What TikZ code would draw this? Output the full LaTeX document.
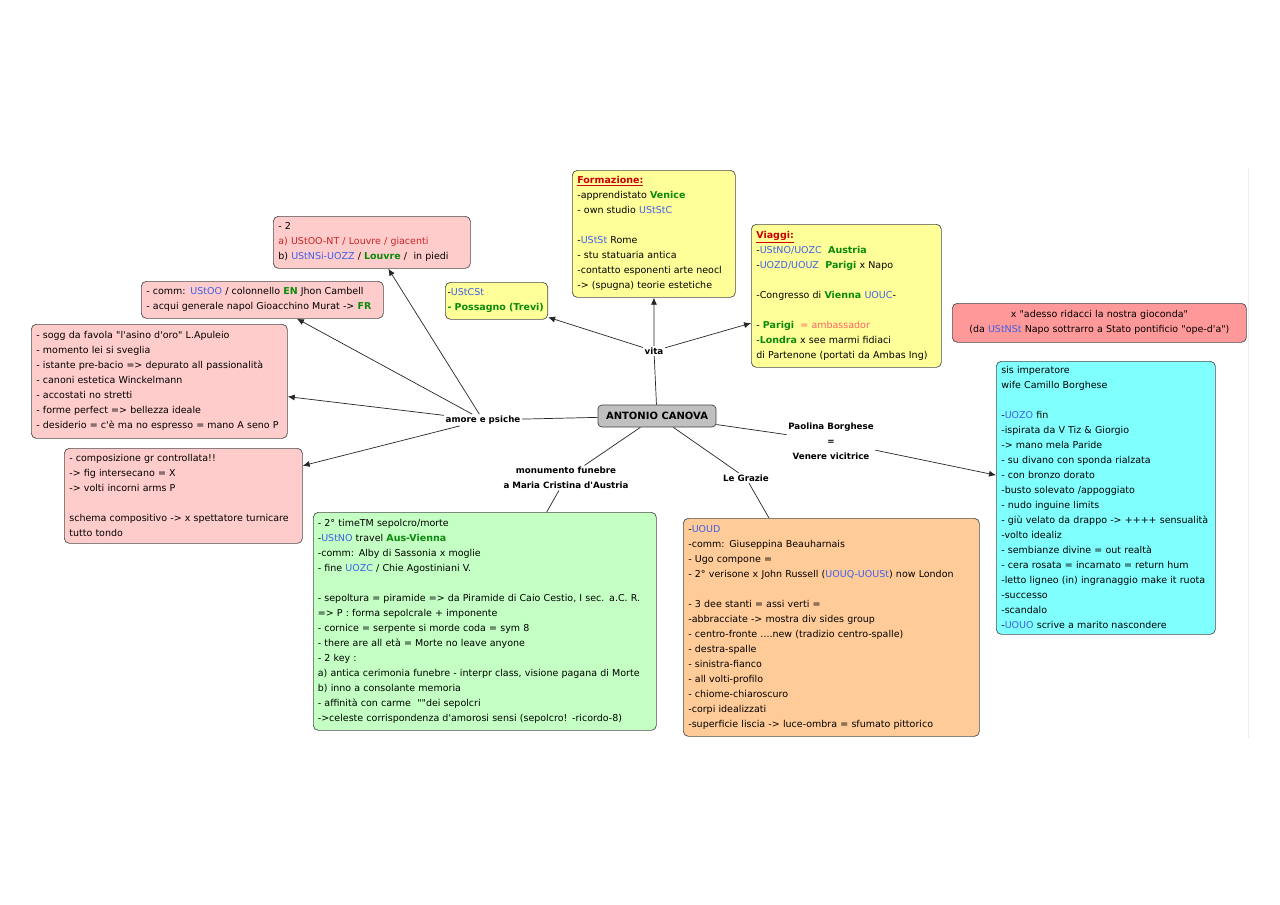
\documentclass[tikz,border=0pt]{standalone}
\usepackage{fontspec}
\setmainfont{DejaVu Sans}[Ligatures=TeXOff]
\usetikzlibrary{arrows.meta}
\definecolor{yel}{HTML}{FFFF99}
\definecolor{pnk}{HTML}{FFCCCC}
\definecolor{sal}{HTML}{FF9999}
\definecolor{cya}{HTML}{80FFFF}
\definecolor{grn}{HTML}{C4FFC4}
\definecolor{org}{HTML}{FFCC99}
\definecolor{gry}{HTML}{C0C0C0}
\definecolor{tblue}{HTML}{3F5FE8}
\definecolor{tgreen}{HTML}{0A8A0A}
\definecolor{thdr}{HTML}{CC0000}
\definecolor{tred}{HTML}{CC2222}
\definecolor{tsal}{HTML}{FF6060}
\newcommand{\Bl}[1]{\textcolor{tblue}{#1}}
\newcommand{\Gr}[1]{\textcolor{tgreen}{\bfseries #1}}
\newcommand{\Hd}[1]{\textcolor{thdr}{\bfseries\underline{#1}}}
\newcommand{\fs}{\fontsize{9.5}{15}\selectfont}
\newcommand{\fl}{\fontsize{8.7}{15}\selectfont}
\tikzset{
  box/.style={draw=black!70, line width=0.7pt, rounded corners=5pt, anchor=north west,
    align=left, inner xsep=5pt, inner ysep=3pt, font=\fs},
  lbl/.style={font=\fl\bfseries, align=center, inner sep=1.5pt},
  arr/.style={-{Latex[length=7pt,width=6pt]}, line width=0.7pt, black!85},
  ln/.style={line width=0.7pt, black!85}
}
\begin{document}
\begin{tikzpicture}[x=1pt,y=-1pt]
\useasboundingbox (0,0) rectangle (1280,905);
\fill[white] (0,0) rectangle (1280,905);
\draw[black!7, line width=0.6pt] (1248,168) -- (1248,738);

% centre
\node[draw=black!75, line width=0.7pt, fill=gry, rounded corners=4pt,
  font=\fontsize{10}{12}\selectfont\bfseries,
  minimum width=118pt, minimum height=22pt, inner sep=2pt] (canova) at (657,416) {ANTONIO CANOVA};

% labels
\node[lbl] (vita) at (654,351) {vita};
\node[lbl] (amore) at (483,420) {amore e psiche};
\node[lbl] (monu) at (566,478) {monumento funebre\\a Maria Cristina d'Austria};
\node[lbl] (grazie) at (746,478) {Le Grazie};
\node[lbl] (paolina) at (831,441) {Paolina Borghese\\=\\Venere vicitrice};

% boxes
\node[box, fill=yel, text width=153pt, minimum height=127pt] (form) at (572,170) {%
\Hd{Formazione:}\\
-apprendistato \Gr{Venice}\\
- own studio \Bl{UStStC}\\
\strut\\
-\Bl{UStSt} Rome\\
- stu statuaria antica\\
-contatto esponenti arte neocl\\
-> (spugna) teorie estetiche};

\node[box, fill=yel, text width=180pt, minimum height=143pt] (viaggi) at (751,224) {%
\Hd{Viaggi:}\\
-\Bl{UStNO/UOZC}\ \ \Gr{Austria}\\
-\Bl{UOZD/UOUZ}\ \ \Gr{Parigi} x Napo\\
\strut\\
-Congresso di \Gr{Vienna} \Bl{UOUC}-\\
\strut\\
- \Gr{Parigi}\ \ \textcolor{tsal}{= ambassador}\\
-\Gr{Londra} x see marmi fidiaci\\
di Partenone (portati da Ambas Ing)};

\node[box, fill=yel, text width=98pt, inner xsep=2.2pt, minimum height=37pt] (possagno) at (445,282) {%
-\Bl{UStCSt}\\
\Gr{- Possagno (Trevi)}};

\node[box, fill=pnk, text width=187pt, minimum height=52pt] (louvre) at (273,216) {%
- 2\\
\textcolor{tred}{a) UStOO-NT / Louvre / giacenti}\\
b) \Bl{UStNSi-UOZZ} / \Gr{Louvre} /\ \ in piedi};

\node[box, fill=pnk, text width=232pt, minimum height=37pt] (comm) at (141,281) {%
- comm: \Bl{UStOO} / colonnello \Gr{EN} Jhon Cambell\\
- acqui generale napol Gioacchino Murat -> \Gr{FR}};

\node[box, fill=pnk, text width=246pt, minimum height=114pt] (sogg) at (31,324) {%
- sogg da favola "l'asino d'oro" L.Apuleio\\
- momento lei si sveglia\\
- istante pre-bacio => depurato all passionalità\\
- canoni estetica Winckelmann\\
- accostati no stretti\\
- forme perfect => bellezza ideale\\
- desiderio = c'è ma no espresso = mano A seno P};

\node[box, fill=pnk, text width=228pt, minimum height=95pt] (compo) at (64,448) {%
- composizione gr controllata!!\\
-> fig intersecano = X\\
-> volti incorni arms P\\
\strut\\
schema compositivo -> x spettatore turnicare\\
tutto tondo};

\node[box, fill=sal, text width=284pt, minimum height=39pt, align=center] (adesso) at (952,303) {%
x "adesso ridacci la nostra gioconda"\\
(da \Bl{UStNSt} Napo sottrarro a Stato pontificio "ope-d'a")};

\node[box, fill=cya, text width=209pt, minimum height=273pt] (paobox) at (996,361) {%
sis imperatore\\
wife Camillo Borghese\\
\strut\\
-\Bl{UOZO} fin\\
-ispirata da V Tiz \& Giorgio\\
-> mano mela Paride\\
- su divano con sponda rialzata\\
- con bronzo dorato\\
-busto solevato /appoggiato\\
- nudo inguine limits\\
- giù velato da drappo -> ++++ sensualità\\
-volto idealiz\\
- sembianze divine = out realtà\\
- cera rosata = incarnato = return hum\\
-letto ligneo (in) ingranaggio make it ruota\\
-successo\\
-scandalo\\
-\Bl{UOUO} scrive a marito nascondere};

\node[box, fill=grn, text width=334pt, inner xsep=4.5pt, minimum height=218pt] (monubox) at (313,512) {%
- 2° timeTM sepolcro/morte\\
-\Bl{UStNO} travel \Gr{Aus-Vienna}\\
-comm: Alby di Sassonia x moglie\\
- fine \Bl{UOZC} / Chie Agostiniani V.\\
\strut\\
- sepoltura = piramide => da Piramide di Caio Cestio, I sec. a.C. R.\\
=> P : forma sepolcrale + imponente\\
- cornice = serpente si morde coda = sym 8\\
- there are all età = Morte no leave anyone\\
- 2 key :\\
a) antica cerimonia funebre - interpr class, visione pagana di Morte\\
b) inno a consolante memoria\\
- affinità con carme\ \ ""dei sepolcri\\
->celeste corrispondenza d'amorosi sensi (sepolcro! -ricordo-8)};

\node[box, fill=org, text width=286pt, minimum height=218pt] (grabox) at (683,518) {%
-\Bl{UOUD}\\
-comm: Giuseppina Beauharnais\\
- Ugo compone =\\
- 2° verisone x John Russell (\Bl{UOUQ-UOUSt}) now London\\
\strut\\
- 3 dee stanti = assi verti =\\
-abbracciate -> mostra div sides group\\
- centro-fronte ....new (tradizio centro-spalle)\\
- destra-spalle\\
- sinistra-fianco\\
- all volti-profilo\\
- chiome-chiaroscuro\\
-corpi idealizzati\\
-superficie liscia -> luce-ombra = sfumato pittorico};

% connectors
\draw[ln] (canova) -- (vita);
\draw[arr] (vita) -- (form);
\draw[arr] (vita) -- (possagno);
\draw[arr] (vita) -- (viaggi);
\draw[ln] (canova) -- (amore);
\draw[arr] (amore) -- (louvre);
\draw[arr] (amore) -- (comm);
\draw[arr] (amore) -- (sogg);
\draw[arr] (amore) -- (compo);
\draw[ln] (canova) -- (monu);
\draw[ln] (monu) -- (monubox);
\draw[ln] (canova) -- (grazie);
\draw[ln] (grazie) -- (grabox);
\draw[ln] (canova) -- (paolina);
\draw[arr] (paolina) -- (paobox);
\end{tikzpicture}
\end{document}
